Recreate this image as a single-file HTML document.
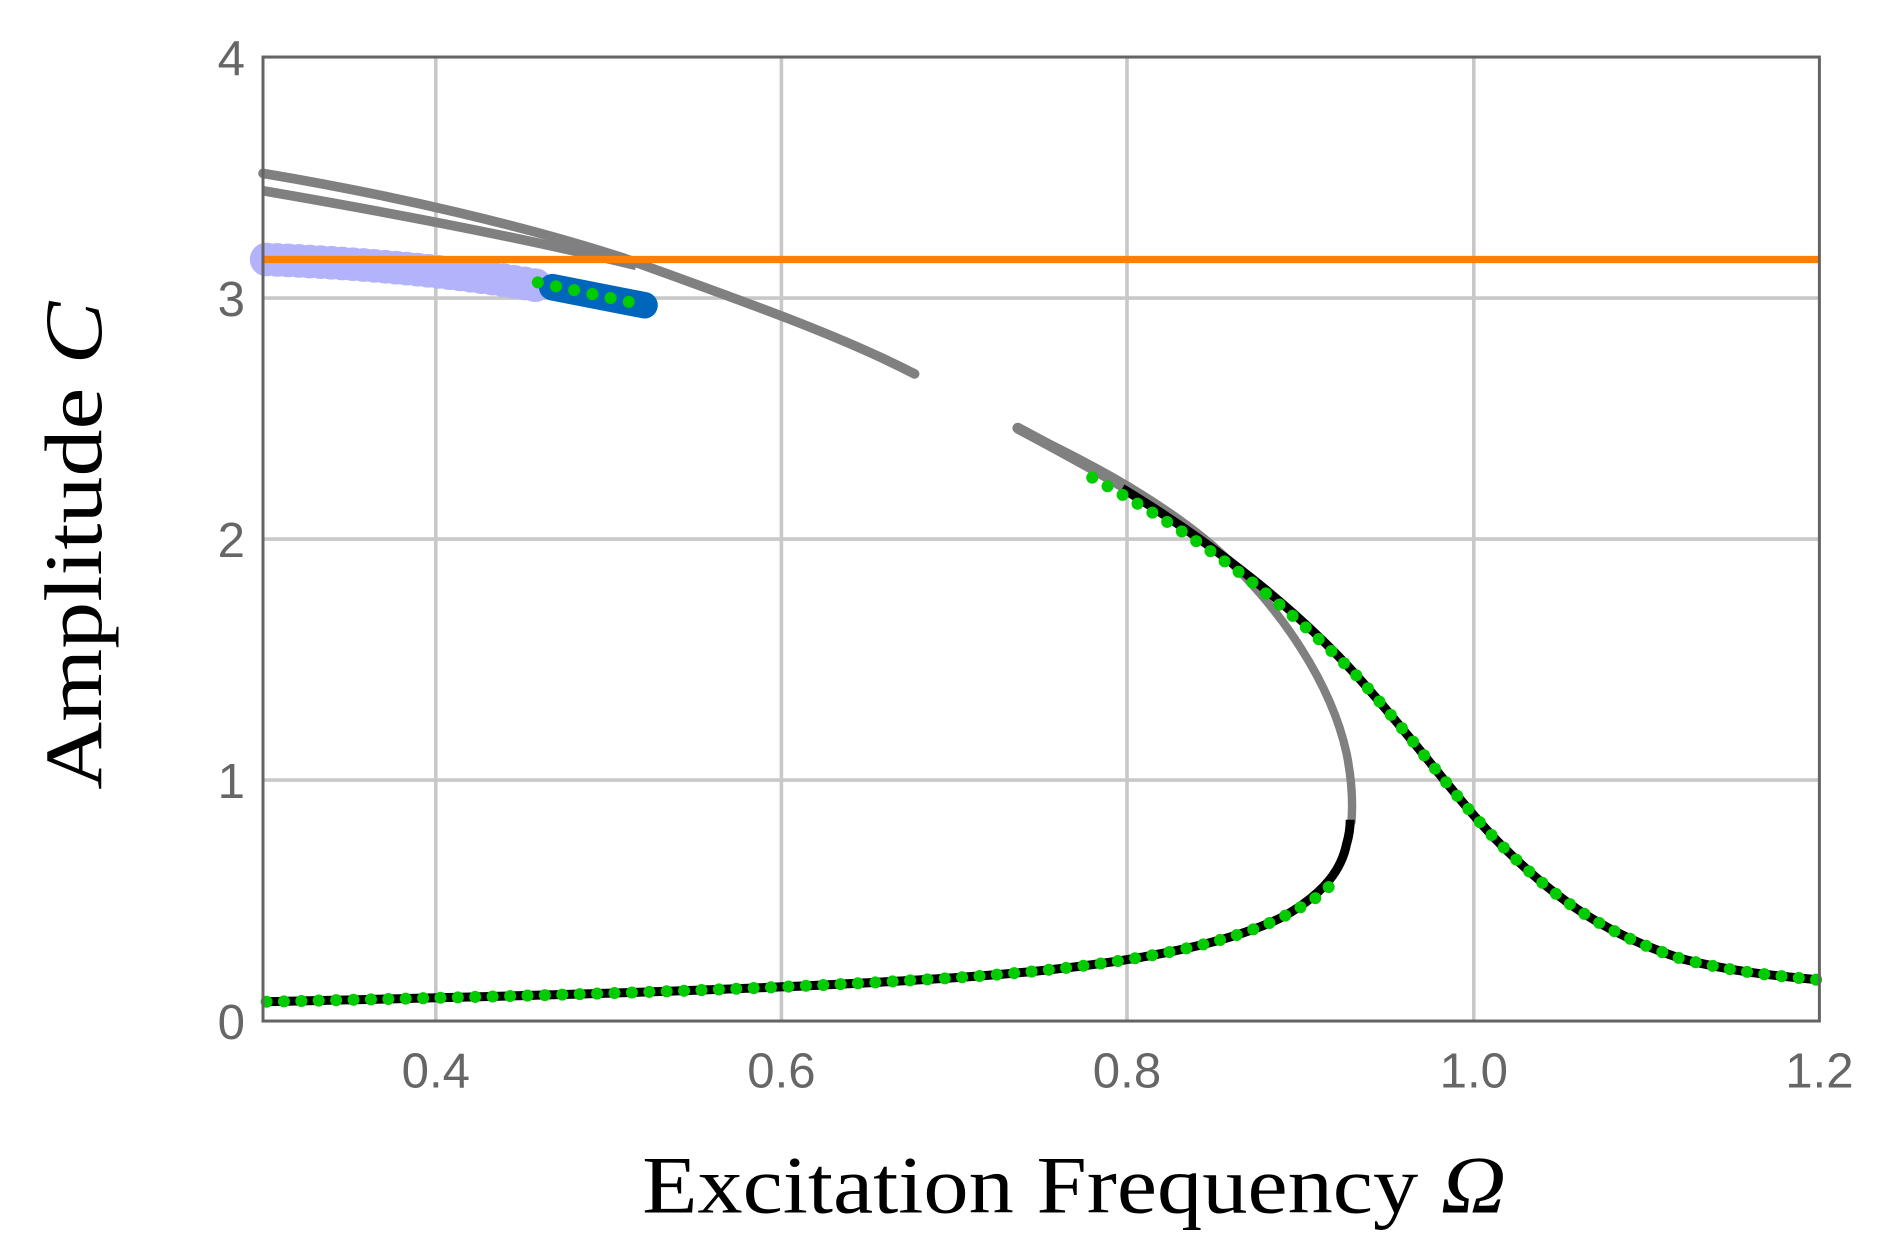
<!DOCTYPE html>
<html><head><meta charset="utf-8"><style>
html,body{margin:0;padding:0;background:#fff;}
svg{display:block;}
</style></head><body>
<svg width="1882" height="1250" viewBox="0 0 1882 1250" xmlns="http://www.w3.org/2000/svg">
<rect width="1882" height="1250" fill="#fff"/>
<g transform="matrix(1.2000,0,0,1.205,0.2,0.4)">
<g stroke="#c8c8c8" stroke-width="3">
<line x1="363" y1="47" x2="363" y2="847"/>
<line x1="651" y1="47" x2="651" y2="847"/>
<line x1="939" y1="47" x2="939" y2="847"/>
<line x1="1228" y1="47" x2="1228" y2="847"/>
<line x1="219" y1="247" x2="1516" y2="247"/>
<line x1="219" y1="447" x2="1516" y2="447"/>
<line x1="219" y1="647" x2="1516" y2="647"/>
</g>
<path d="M222,215 C300,218 380,225 450,237" fill="none" stroke="#b3b3fb" stroke-width="28" stroke-linecap="round" stroke-dasharray="0 9"/>
<path d="M222,215 C300,218 380,225 450,237" fill="none" stroke="#b3b3fb" stroke-width="24" stroke-linecap="butt"/>
<path d="M460,238 L537,253" fill="none" stroke="#0066bb" stroke-width="22" stroke-linecap="round"/>
<path d="M448,234 L537,253" fill="none" stroke="#00cc00" stroke-width="10" stroke-linecap="round" stroke-dasharray="0 15.5"/>
<path d="M219,143.5 C330,162 440,188 520,214 C620,250 700,278 762,310" fill="none" stroke="#808080" stroke-width="8" stroke-linecap="round"/>
<path d="M219,158 C330,177 440,198 530,220" fill="none" stroke="#808080" stroke-width="8" stroke-linecap="butt"/>
<line x1="219" y1="215" x2="1516" y2="215" stroke="#ff8000" stroke-width="6"/>
<path d="M848,355 C900,380 960,410 1010,452 C1070,505 1110,570 1122,625 C1127,650 1127,670 1126,682" fill="none" stroke="#808080" stroke-width="7" stroke-linecap="round"/>
<path d="M848,355 C880,372 910,388 935,403" fill="none" stroke="#808080" stroke-width="9" stroke-linecap="round"/>
<path d="M935,405 C1010,450 1080,505 1130,560 C1180,615 1215,665 1250,700 C1300,750 1340,775 1400,795 C1450,808 1490,810 1516,813" fill="none" stroke="#000" stroke-width="7.5"/>
<path d="M910,396 C935,410 945,416 960,425 C1030,468 1085,515 1130,560 C1180,615 1215,665 1250,700 C1300,750 1340,775 1400,795 C1450,808 1490,810 1516,813" fill="none" stroke="#00cc00" stroke-width="10" stroke-linecap="round" stroke-dasharray="0 14.5"/>
<path d="M219,831 C400,827 600,823 780,812 C900,805 1010,790 1070,760 C1105,740 1118,720 1122,700 C1125,690 1125,684 1125,680" fill="none" stroke="#000" stroke-width="7.5"/>
<path d="M222,831 C400,827 600,823 780,812 C900,805 1010,790 1070,760 C1100,744 1108,738 1114,725" fill="none" stroke="#00cc00" stroke-width="10" stroke-linecap="round" stroke-dasharray="0 14.5"/>
<rect x="219" y="47" width="1297" height="800" fill="none" stroke="#646464" stroke-width="2.5"/>
<g font-family="Liberation Sans, sans-serif" font-size="41" fill="#666">
<text x="204" y="62" text-anchor="end">4</text>
<text x="204" y="262" text-anchor="end">3</text>
<text x="204" y="462" text-anchor="end">2</text>
<text x="204" y="662" text-anchor="end">1</text>
<text x="204" y="862" text-anchor="end">0</text>
<text x="363" y="902" text-anchor="middle">0.4</text>
<text x="651" y="902" text-anchor="middle">0.6</text>
<text x="939" y="902" text-anchor="middle">0.8</text>
<text x="1228" y="902" text-anchor="middle">1.0</text>
<text x="1516" y="902" text-anchor="middle">1.2</text>
</g>
<text x="535" y="1006" textLength="720" lengthAdjust="spacingAndGlyphs" font-family="Liberation Serif, serif" font-size="68" fill="#000">Excitation Frequency  <tspan font-style="italic">Ω</tspan></text>
<text transform="translate(84,655) rotate(-90)" textLength="405" lengthAdjust="spacingAndGlyphs" font-family="Liberation Serif, serif" font-size="68" fill="#000">Amplitude  <tspan font-style="italic">C</tspan></text>
</g>
</svg>
</body></html>
